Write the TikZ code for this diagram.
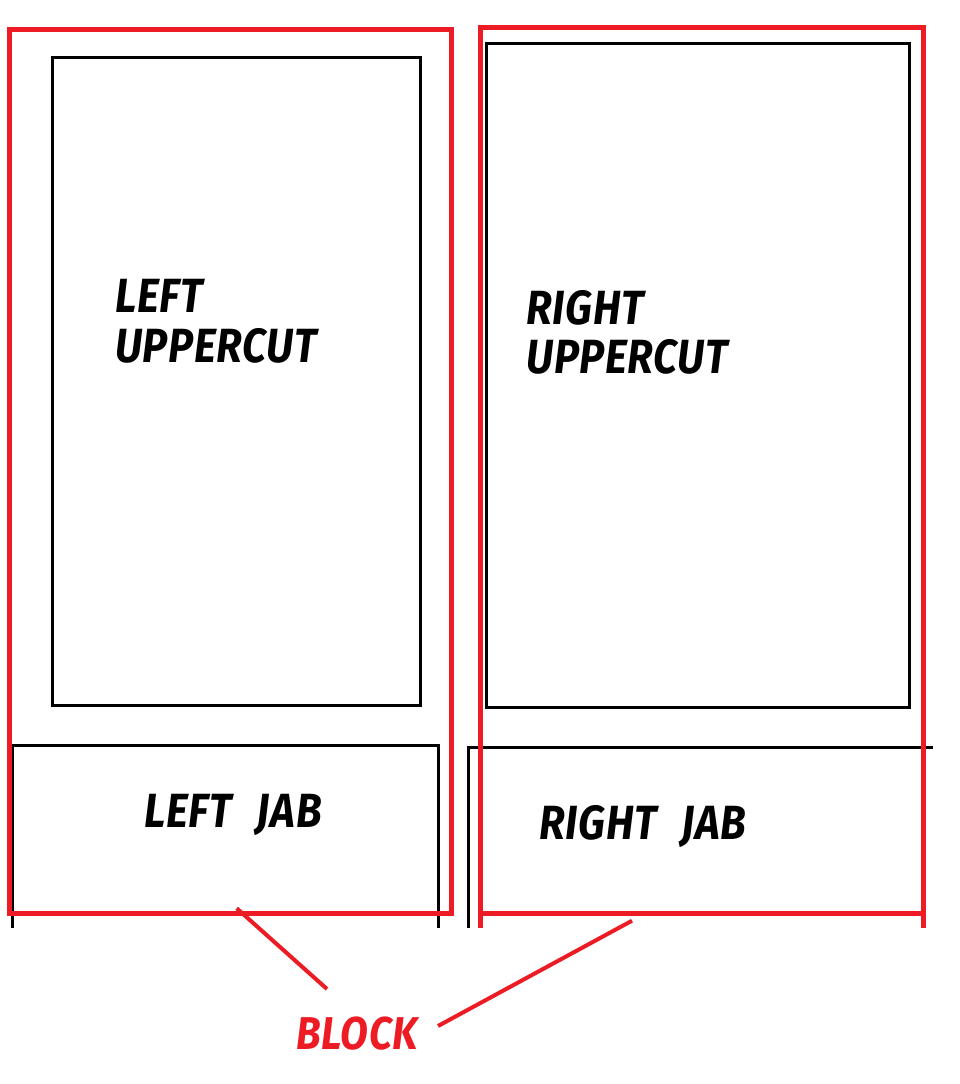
\documentclass[tikz,border=0pt]{standalone}
\usepackage{fontspec}
\newfontfamily\handfont[FakeStretch=0.88,LetterSpace=1.5,WordSpace=2.4]{Fira Sans}
\definecolor{paintred}{HTML}{ED1C24}
\tikzstyle{panel}=[draw=black,line width=3pt]
\tikzstyle{guard}=[draw=paintred,line width=5pt]
\tikzstyle{pointer}=[draw=paintred,line width=4pt]
\tikzstyle{punchtext}=[inner sep=0pt,anchor=base west,font=\handfont\bfseries\itshape\fontsize{48}{50}\selectfont]
\tikzset{>=latex}

\begin{document}
\begin{tikzpicture}[x=1pt,y=-1pt]
  \useasboundingbox (0,0) rectangle (960,1084);
  \def \jabtop {745.5}
  \def \tick {928}
  % Uppercut panels
  \draw[panel] (52,57.5) rectangle (420,705);
  \draw[panel] (486,43.5) rectangle (909.8,707);
  % Jab panels, open at the bottom
  \draw[panel] (12.7,\tick) -- (12.7,\jabtop) -- (438.7,\jabtop) -- (438.7,\tick);
  \draw[panel] (468,\tick) -- (468,747.5) -- (932.7,747.5);
  % Block zones
  \draw[guard] (9.7,29.5) rectangle (451.7,913.3);
  \draw[guard] (480.6,\tick) -- (480.6,27) -- (923.2,27) -- (923.2,\tick);
  \draw[guard] (480.6,913.3) -- (921,913.3);
  \coordinate (lguard) at (236.7,908.3);
  \coordinate (rguard) at (632,920.7);

  % Labels
  \node[punchtext] (lup1) at (115,312) {LEFT};
  \node[punchtext] (lup2) at (115,362) {UPPERCUT};
  \node[punchtext] (rup1) at (526,324) {RIGHT};
  \node[punchtext] (rup2) at (526,373) {UPPERCUT};
  \node[punchtext] (ljab) at (144,827) {LEFT JAB};
  \node[punchtext] (rjab) at (539,839) {RIGHT JAB};
  \node[punchtext,text=paintred,font=\handfont\bfseries\itshape\fontsize{46}{48}\selectfont] (block) at (296,1049) {BLOCK};

  \coordinate (blkl) at (327,989);
  \coordinate (blkr) at (438,1026);
  \draw[pointer] (lguard) -- (blkl);
  \draw[pointer] (rguard) -- (blkr);
\end{tikzpicture}
\end{document}
